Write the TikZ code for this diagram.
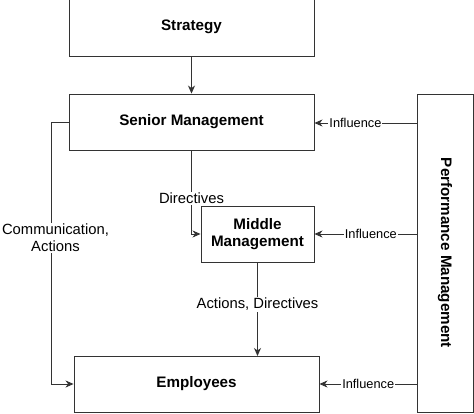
\documentclass[tikz,border=0pt]{standalone}
\usepackage{fontspec}
\setmainfont{Liberation Sans}
\usetikzlibrary{arrows.meta}
\definecolor{edge}{HTML}{333333}
\begin{document}
\begin{tikzpicture}[x=1pt,y=-1pt,
  box/.style={draw=edge, line width=0.9pt, fill=white, inner sep=2pt, align=center, font=\fontsize{15.2}{17.5}\selectfont\bfseries},
  conn/.style={draw=edge, line width=0.9pt, -{Stealth[length=8pt,width=7pt,inset=2.5pt]}},
  lbl/.style={fill=white, inner sep=1pt, font=\fontsize{14.8}{17}\selectfont, align=center},
  inf/.style={fill=white, inner sep=1pt, font=\fontsize{12.8}{15}\selectfont}]
\clip (0,0) rectangle (474,413);
\fill[white] (0,0) rectangle (474,413);
\node[box, minimum width=245pt, minimum height=58pt] (strategy) at (191.5,27) {Strategy};
\node[box, minimum width=245pt, minimum height=56pt] (senior) at (191.5,122) {Senior Management};
\node[box, minimum width=113pt, minimum height=56pt] (middle) at (257.5,234) {Middle\\Management};
\node[box, minimum width=245pt, minimum height=56pt] (employees) at (196.5,384) {Employees};
\node[box, minimum width=318pt, minimum height=56pt, rotate=-90] (perf) at (445,253) {Performance Management};
\draw[conn] (strategy.south) -- (senior.north);
\draw[conn] (senior.south) -- (191.5,234) node[lbl, pos=0.57] {Directives} -- (middle.west);
\draw[conn] (middle.south) -- (257.5,356) node[lbl, pos=0.45] {Actions, Directives};
\coordinate (cl1) at (51,122);
\coordinate (cl2) at (51,384);
\draw[conn] (senior.west) -- (cl1) -- (cl2) -- (employees.west);
\node[lbl] (comm) at (55.5,238) {Communication,\\Actions};
\coordinate (pi1) at (417,123);
\coordinate (pi2) at (417,234);
\coordinate (pi3) at (417,384);
\draw[conn] (pi1) -- (senior.east |- pi1) node[inf, pos=0.6] {Influence};
\draw[conn] (pi2) -- (middle.east |- pi2) node[inf, pos=0.45] {Influence};
\draw[conn] (pi3) -- (employees.east |- pi3) node[inf, pos=0.5] {Influence};
\end{tikzpicture}
\end{document}
